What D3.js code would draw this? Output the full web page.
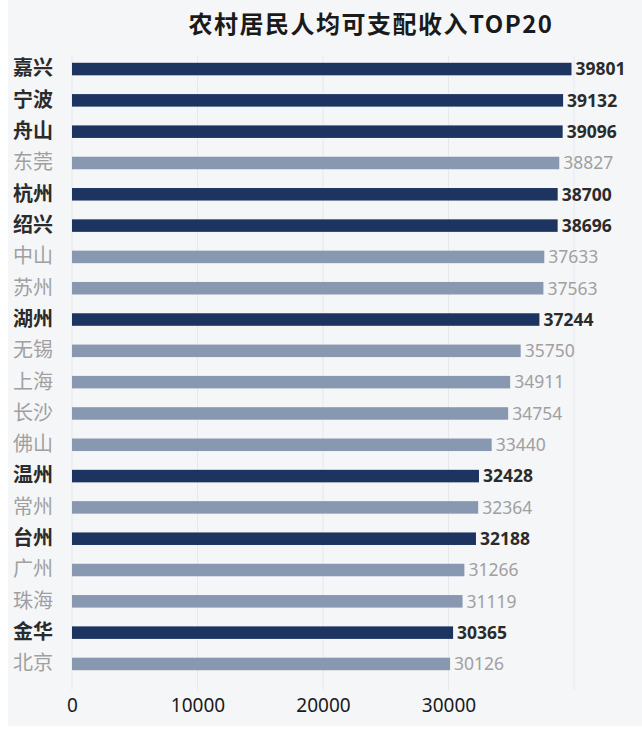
<!DOCTYPE html>
<html>
<head>
<meta charset="utf-8">
<script src="https://cdn.jsdelivr.net/npm/d3@7"></script>
<style>
  body { margin: 0; background: #fff; }
  svg { display: block; }
</style>
</head>
<body>
<div id="chart"></div>
<script>
// data
var cities = ["嘉兴", "宁波", "舟山", "东莞", "杭州", "绍兴", "中山", "苏州", "湖州", "无锡",
              "上海", "长沙", "佛山", "温州", "常州", "台州", "广州", "珠海", "金华", "北京"];
var incomes = [39801, 39132, 39096, 38827, 38700, 38696, 37633, 37563, 37244, 35750,
               34911, 34754, 33440, 32428, 32364, 32188, 31266, 31119, 30365, 30126];
// 1 = Zhejiang city (dark bar), 0 = other
var zhejiang = [1, 1, 1, 0, 1, 1, 0, 0, 1, 0, 0, 0, 0, 1, 0, 1, 0, 0, 1, 0];
var xTicks = [0, 10000, 20000, 30000];
var gridTicks = [0, 10000, 20000, 30000, 40000];
var title = "农村居民人均可支配收入TOP20";

var width = 642, height = 732;
var dark = "#1d3461", light = "#8898b1";
var darkText = "#2b2b2b", lightText = "#a0a0a0";
var cjk = "'Noto Sans CJK SC', 'Noto Sans', sans-serif";

var data = cities.map(function(c, i) {
  return {city: c, value: incomes[i], zj: zhejiang[i]};
});

var svg = d3.select("#chart").append("svg")
    .attr("width", width)
    .attr("height", height);

// light panel behind everything
svg.append("rect")
    .attr("x", 8).attr("y", 0)
    .attr("width", width - 8).attr("height", 726)
    .attr("fill", "#f5f6f8");

var x = d3.scaleLinear()
    .domain([0, 40000])
    .range([72, 574]);

var y = d3.scaleBand()
    .domain(cities)
    .range([44, 689])
    .padding(0.6);

// title
svg.append("text")
    .attr("x", 371)
    .attr("y", 33)
    .attr("text-anchor", "middle")
    .style("font-family", cjk)
    .style("font-size", "24px")
    .style("font-weight", "bold")
    .style("letter-spacing", "1.5px")
    .attr("fill", "#1a1a1a")
    .text(title);

// faint vertical gridlines
svg.append("g").selectAll("line")
    .data(gridTicks)
  .enter().append("line")
    .attr("x1", function(d) { return x(d); })
    .attr("x2", function(d) { return x(d); })
    .attr("y1", 56)
    .attr("y2", 690)
    .attr("stroke", "#e6e8ec")
    .attr("stroke-width", 1);

// bars
svg.append("g").selectAll("rect")
    .data(data)
  .enter().append("rect")
    .attr("x", x(0))
    .attr("y", function(d) { return y(d.city); })
    .attr("width", function(d) { return x(d.value) - x(0); })
    .attr("height", y.bandwidth())
    .attr("fill", function(d) { return d.zj ? dark : light; });

// value labels
svg.append("g").selectAll("text")
    .data(data)
  .enter().append("text")
    .attr("x", function(d) { return x(d.value) + 4; })
    .attr("y", function(d) { return y(d.city) + y.bandwidth() / 2; })
    .attr("dy", "0.36em")
    .style("font-family", "'Noto Sans', sans-serif")
    .style("font-size", "17.5px")
    .style("font-weight", function(d) { return d.zj ? "bold" : "normal"; })
    .attr("fill", function(d) { return d.zj ? darkText : lightText; })
    .text(function(d) { return d.value; });

// category axis
var yAxis = svg.append("g")
    .attr("transform", "translate(" + x(0) + ",0)")
    .call(d3.axisLeft(y).tickSize(0).tickPadding(19));
yAxis.select(".domain").remove();
yAxis.selectAll("text")
    .style("font-family", cjk)
    .style("font-size", "20px")
    .style("font-weight", function(d, i) { return zhejiang[i] ? "bold" : "normal"; })
    .attr("fill", function(d, i) { return zhejiang[i] ? darkText : lightText; });

// value axis
var xAxis = svg.append("g")
    .attr("transform", "translate(0,694)")
    .call(d3.axisBottom(x).tickValues(xTicks).tickSize(0).tickPadding(4)
      .tickFormat(d3.format("d")));
xAxis.select(".domain").remove();
xAxis.selectAll("text")
    .style("font-family", "'Noto Sans', sans-serif")
    .style("font-size", "19px")
    .attr("fill", "#1a1a1a");
</script>
</body>
</html>
